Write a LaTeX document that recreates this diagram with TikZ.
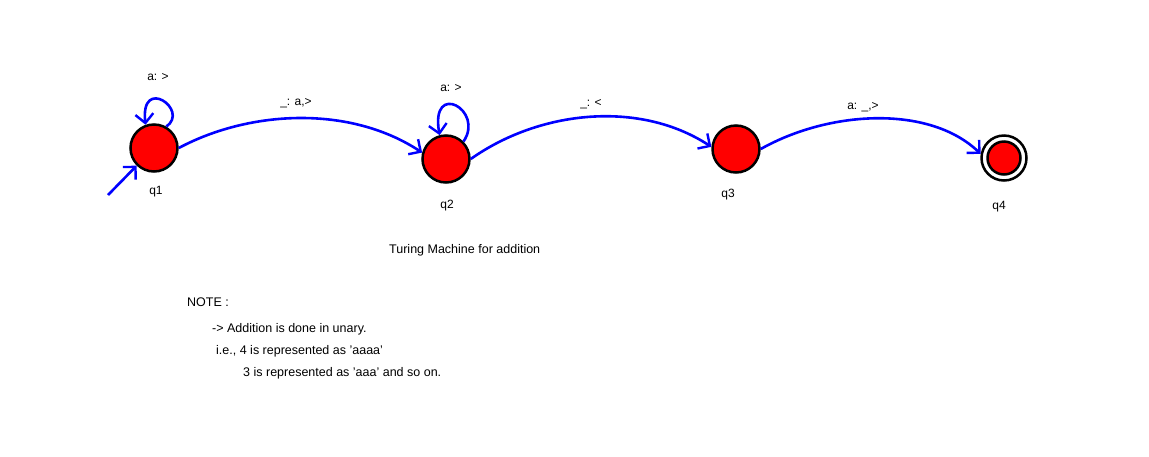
\documentclass[tikz,border=0pt]{standalone}
\usepackage{fontspec}
\setmainfont{Liberation Sans}
\usetikzlibrary{arrows.meta}
\begin{document}
\begin{tikzpicture}[x=1pt,y=-1pt,
  st/.style={circle,draw=black,line width=2.5pt,fill=red,minimum size=47pt,inner sep=0pt},
  tr/.style={draw=blue,line width=2.6pt,-{Straight Barb[length=9pt,width=18pt,line width=2.4pt]}},
  lb/.style={font=\fontsize{12}{14}\selectfont,inner sep=0pt},
  txt/.style={font=\fontsize{12.5}{15}\selectfont,inner sep=0pt,anchor=west}]
\useasboundingbox[fill=white] (0,0) rectangle (1149,456);
\node[st] (q1) at (154,148) {};
\node[st] (q2) at (446,159) {};
\node[st] (q3) at (736,149) {};
\node[circle,draw=black,line width=2.5pt,fill=white,minimum size=45pt,inner sep=0pt] (q4) at (1004,158) {};
\node[circle,draw=black,line width=2.5pt,fill=red,minimum size=33pt,inner sep=0pt] (q4i) at (1004,158) {};
\node[lb] (l1) at (156,192) {q1};
\node[lb] (l2) at (447,206) {q2};
\node[lb] (l3) at (728,195) {q3};
\node[lb] (l4) at (999,207) {q4};
\coordinate (s) at (108,195);
\draw[tr] (s) -- (q1);
\draw[tr] (q1.60) .. controls (190,110) and (140,75) .. (q1.110);
\draw[tr] (q2.45) .. controls (485,110) and (430,80) .. (q2.105);
\draw[tr] (q1.east) .. controls (250,110) and (350,105) .. (q2.165);
\draw[tr] (q2.east) .. controls (540,110) and (640,100) .. (q3.175);
\draw[tr] (q3.east) .. controls (830,110) and (930,105) .. (q4.170);
\node[lb] (a1) at (158,77) {a: >};
\node[lb] (a2) at (451,88) {a: >};
\node[lb] (a3) at (296,103) {\_: a,>};
\node[lb] (a4) at (591,104) {\_: <};
\node[lb] (a5) at (863,107) {a: \_,>};
\node[txt] (t) at (389,250) {Turing Machine for addition};
\node[txt] (n0) at (187,302) {NOTE :};
\node[txt] (n1) at (212,329) {-> Addition is done in unary.};
\node[txt] (n2) at (216,351) {i.e., 4 is represented as 'aaaa'};
\node[txt] (n3) at (243,373) {3 is represented as 'aaa' and so on.};
\end{tikzpicture}
\end{document}
